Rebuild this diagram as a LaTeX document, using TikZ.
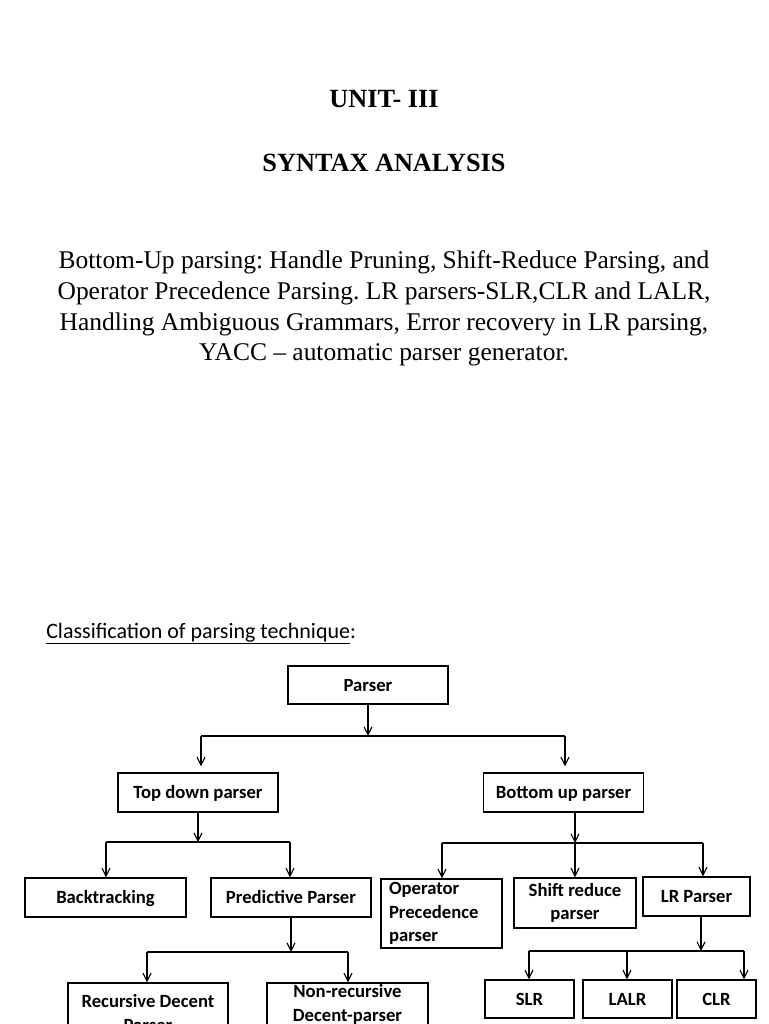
\documentclass[tikz,border=0pt]{standalone}
\usepackage{fontspec}
\setmainfont{Liberation Serif}
\newfontfamily\calfont{Carlito}
\usetikzlibrary{arrows.meta}
\frenchspacing
\begin{document}
\begin{tikzpicture}[x=0.75pt,y=-0.75pt,
  box/.style={draw, line width=1.1pt, inner sep=0pt, align=center,
    font=\calfont\bfseries\fontsize{14}{17.6}\selectfont},
  onebox/.style={box, text height=10.5pt, text depth=1.5pt},
  conn/.style={line width=0.8pt},
  arr/.style={conn, -{Straight Barb[length=6pt,width=6pt]}},
  ttl/.style={anchor=base, font=\bfseries\fontsize{19.7}{23}\selectfont},
  bodyline/.style={anchor=base, inner sep=0pt, font=\fontsize{19.1}{23}\selectfont}]
\useasboundingbox (0,0) rectangle (768,1024);
% titles
\node[ttl] (t1) at (384,108) {UNIT- III};
\node[ttl] (t2) at (384,171) {SYNTAX ANALYSIS};
\node[bodyline] (b1) at (384,268) {Bottom-Up parsing: Handle Pruning, Shift-Reduce Parsing, and};
\node[bodyline] (b2) at (384,299) {Operator Precedence Parsing. LR parsers-SLR,CLR and LALR,};
\node[bodyline] (b3) at (384,330) {Handling Ambiguous Grammars, Error recovery in LR parsing,};
\node[bodyline] (b4) at (384,360) {YACC -- automatic parser generator.};
\node[anchor=base west, inner sep=0pt, font=\calfont\fontsize{16.5}{19}\selectfont] (cls) at (46,638) {\underline{Classification of parsing technique}:};
% boxes
\node[onebox, minimum width=120pt, minimum height=28.5pt] (parser) at (368,685) {Parser};
\node[onebox, minimum width=120pt, minimum height=29.25pt] (td) at (198,792.5) {Top down parser};
\node[onebox, minimum width=120pt, minimum height=29.25pt] (bu) at (563.5,792.5) {Bottom up parser};
\node[onebox, minimum width=120.75pt, minimum height=29.25pt] (bt) at (105.5,897.5) {Backtracking};
\node[onebox, minimum width=120pt, minimum height=29.25pt] (pp) at (291,897.5) {Predictive Parser};
\node[box, minimum width=120pt, minimum height=45pt] (rd) at (148,1013) {Recursive Decent\\Parser};
\node[box, minimum width=120.75pt, minimum height=32.25pt] (nr) at (347.5,1004.5) {Non-recursive\\Decent-parser};
\node[box, text width=78.75pt, inner xsep=6pt, align=left, minimum height=51.75pt] (op) at (441.5,913.5) {Operator\\Precedence\\parser};
\node[box, minimum width=91.5pt, minimum height=37.5pt] (sr) at (575,903) {Shift reduce\\parser};
\node[onebox, minimum width=80.25pt, minimum height=29.25pt] (lr) at (696.5,896.5) {LR Parser};
\node[onebox, minimum width=66.75pt, minimum height=28.5pt] (slr) at (529.5,999) {SLR};
\node[onebox, minimum width=66.75pt, minimum height=28.5pt] (lalr) at (627.5,999) {LALR};
\node[onebox, minimum width=59.25pt, minimum height=28.5pt] (clr) at (716.5,999) {CLR};
% junctions
\coordinate (j1) at (368,736);
\coordinate (j1a) at (201,736);
\coordinate (j1b) at (565,736);
\coordinate (j2) at (198,842);
\coordinate (j2a) at (106,842);
\coordinate (j2b) at (290,842);
\coordinate (j3) at (291,952);
\coordinate (j3a) at (147,952);
\coordinate (j3b) at (348,952);
\coordinate (j4) at (575,843);
\coordinate (j4a) at (442,843);
\coordinate (j4b) at (703,843);
\coordinate (j5) at (701,951);
\coordinate (j5a) at (529,951);
\coordinate (j5m) at (627,951);
\coordinate (j5b) at (744,951);
% level 1
\draw[arr] (parser) -- (j1);
\draw[conn] (j1a) -- (j1b);
\draw[arr, shorten >=4.5pt] (j1a) -- (j1a |- td.north);
\draw[arr, shorten >=4.5pt] (j1b) -- (j1b |- bu.north);
% left level 2
\draw[arr] (td) -- (j2);
\draw[conn] (j2a) -- (j2b);
\draw[arr] (j2a) -- (j2a |- bt.north);
\draw[arr] (j2b) -- (j2b |- pp.north);
% left level 3
\draw[arr] (pp) -- (j3);
\draw[conn] (j3a) -- (j3b);
\draw[arr] (j3a) -- (j3a |- rd.north);
\draw[arr] (j3b) -- (j3b |- nr.north);
% right level 2
\draw[arr] (j4 |- bu.south) -- (j4);
\draw[conn] (j4a) -- (j4b);
\draw[arr] (j4a) -- (j4a |- op.north);
\draw[arr] (j4) -- (j4 |- sr.north);
\draw[arr] (j4b) -- (j4b |- lr.north);
% right level 3
\draw[arr] (j5 |- lr.south) -- (j5);
\draw[conn] (j5a) -- (j5b);
\draw[arr] (j5a) -- (j5a |- slr.north);
\draw[arr] (j5m) -- (j5m |- lalr.north);
\draw[arr] (j5b) -- (j5b |- clr.north);
\end{tikzpicture}
\end{document}
